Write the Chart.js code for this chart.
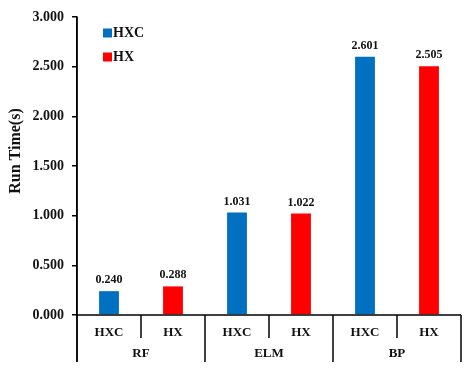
<!DOCTYPE html>
<html>
<head>
<meta charset="utf-8">
<script src="https://cdn.jsdelivr.net/npm/chart.js@4"></script>
<style>
  html, body { margin: 0; padding: 0; background: #fff; }
  #wrap { width: 474px; height: 377px; }
</style>
</head>
<body>
<div id="wrap"><canvas id="chart" width="474" height="377"></canvas></div>
<script>
// data
const methods = ["RF", "ELM", "BP"];
const variants = ["HXC", "HX"];
const hxcTimes = [0.240, 1.031, 2.601];
const hxTimes = [0.288, 1.022, 2.505];
const yTicks = [0, 0.5, 1, 1.5, 2, 2.5, 3];

const BLUE = "#0070C0";
const RED = "#FF0000";
const FONT = "'Liberation Serif', 'Times New Roman', serif";

// one category per (method, variant) pair
let labels = [];
let hxcData = [];
let hxData = [];
for (let i = 0; i < methods.length; i++) {
  labels.push(variants[0], variants[1]);
  hxcData.push(hxcTimes[i], null);
  hxData.push(null, hxTimes[i]);
}

// axes extras, group labels, value labels, legend
const extras = {
  id: "extras",
  afterDraw(chart) {
    const ctx = chart.ctx;
    const area = chart.chartArea;
    const x = chart.scales.x;
    const n = labels.length;
    const step = x.getPixelForValue(1) - x.getPixelForValue(0);
    ctx.save();
    ctx.strokeStyle = "#000";
    ctx.lineWidth = 1.5;

    // x axis line
    ctx.beginPath();
    ctx.moveTo(area.left, area.bottom);
    ctx.lineTo(area.right, area.bottom);
    ctx.stroke();

    // y axis runs on down through the category rows
    ctx.beginPath();
    ctx.moveTo(area.left, area.top);
    ctx.lineTo(area.left, area.bottom + 47);
    ctx.stroke();

    // separators: short between variants, long between methods
    for (let i = 0; i <= n; i++) {
      let px = x.getPixelForValue(i) - step / 2;
      let len = (i % 2 === 0) ? 47 : 23;
      ctx.beginPath();
      ctx.moveTo(px, area.bottom);
      ctx.lineTo(px, area.bottom + len);
      ctx.stroke();
    }

    // method names
    ctx.fillStyle = "#111";
    ctx.font = "bold 13px " + FONT;
    ctx.textAlign = "center";
    ctx.textBaseline = "middle";
    for (let i = 0; i < methods.length; i++) {
      let px = (x.getPixelForValue(2 * i) + x.getPixelForValue(2 * i + 1)) / 2;
      ctx.fillText(methods[i], px, area.bottom + 39);
    }

    // value labels on top of bars
    ctx.font = "bold 12px " + FONT;
    ctx.textBaseline = "bottom";
    chart.data.datasets.forEach((ds, di) => {
      const meta = chart.getDatasetMeta(di);
      meta.data.forEach((bar, j) => {
        if (ds.data[j] === null) return;
        ctx.fillText(ds.data[j].toFixed(3), bar.x, bar.y - 5);
      });
    });

    // y axis title
    ctx.save();
    ctx.translate(16, 151);
    ctx.rotate(-Math.PI / 2);
    ctx.font = "bold 16px " + FONT;
    ctx.textBaseline = "middle";
    ctx.fillText("Run Time(s)", 0, 0);
    ctx.restore();

    // legend
    ctx.font = "bold 14px " + FONT;
    ctx.textAlign = "left";
    ctx.textBaseline = "middle";
    chart.data.datasets.forEach((ds, di) => {
      let ly = 33 + di * 24;
      ctx.fillStyle = ds.backgroundColor;
      ctx.fillRect(103, ly - 4.5, 9, 9);
      ctx.fillStyle = "#111";
      ctx.fillText(ds.label, 113, ly);
    });
    ctx.restore();
  }
};

new Chart(document.getElementById("chart"), {
  type: "bar",
  data: {
    labels: labels,
    datasets: [
      { label: variants[0], data: hxcData, backgroundColor: BLUE },
      { label: variants[1], data: hxData, backgroundColor: RED }
    ]
  },
  options: {
    responsive: false,
    animation: false,
    layout: { padding: { top: 17, right: 13, left: 0, bottom: 0 } },
    datasets: {
      bar: { grouped: false, categoryPercentage: 1, barPercentage: 0.31, borderWidth: 0 }
    },
    plugins: {
      legend: { display: false },
      tooltip: { enabled: false }
    },
    scales: {
      x: {
        grid: { display: false },
        border: { display: false },
        ticks: {
          color: "#111",
          padding: 2,
          maxRotation: 0,
          font: { family: FONT, size: 13, weight: "bold" }
        },
        afterFit: (s) => { s.height = 62; }
      },
      y: {
        min: 0,
        max: 3,
        afterBuildTicks: (s) => { s.ticks = yTicks.map(v => ({ value: v })); },
        grid: { drawOnChartArea: false, tickLength: 5, color: "#000", lineWidth: 1.5 },
        border: { display: true, color: "#000", width: 1.5 },
        ticks: {
          color: "#111",
          padding: 8,
          font: { family: FONT, size: 14, weight: "bold" },
          callback: (v) => Number(v).toFixed(3)
        },
        afterFit: (s) => { s.width = 77; }
      }
    }
  },
  plugins: [extras]
});
</script>
</body>
</html>
